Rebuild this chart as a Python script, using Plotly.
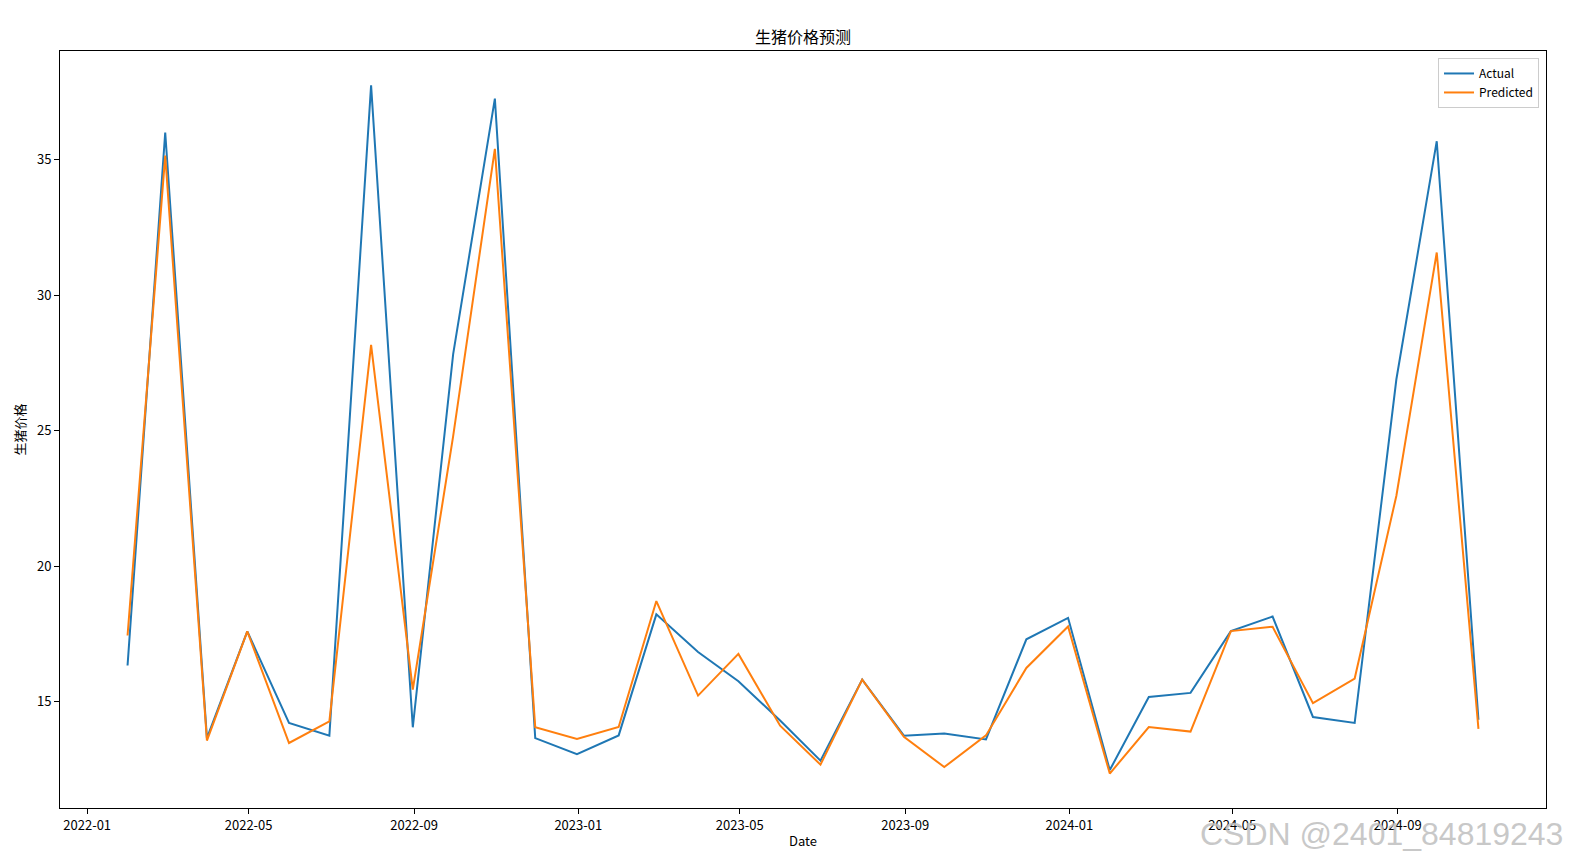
import plotly.graph_objects as go
import pandas as pd

dates = pd.date_range("2022-01-31", periods=34, freq="ME").strftime("%Y-%m-%d").tolist()

actual = [16.33, 36.01, 13.65, 17.59, 14.21, 13.74, 37.75, 14.05, 27.83, 37.26,
          13.65, 13.06, 13.75, 18.22, 16.83, 15.75, 14.30, 12.82, 15.81, 13.74,
          13.82, 13.60, 17.30, 18.09, 12.47, 15.17, 15.32, 17.60, 18.14, 14.43,
          14.21, 26.90, 35.69, 14.33]

predicted = [17.44, 35.16, 13.56, 17.59, 13.47, 14.27, 28.17, 15.44, 24.80, 35.41,
             14.05, 13.62, 14.06, 18.71, 15.22, 16.76, 14.11, 12.67, 15.81, 13.70,
             12.58, 13.75, 16.24, 17.77, 12.34, 14.06, 13.89, 17.60, 17.76, 14.94,
             15.85, 22.60, 31.58, 13.99]

x_tick_vals = ["2022-01-01", "2022-05-01", "2022-09-01", "2023-01-01", "2023-05-01",
               "2023-09-01", "2024-01-01", "2024-05-01", "2024-09-01"]
x_tick_text = ["2022-01", "2022-05", "2022-09", "2023-01", "2023-05",
               "2023-09", "2024-01", "2024-05", "2024-09"]
y_tick_vals = [15, 20, 25, 30, 35]

title_text = "生猪价格预测"
x_title = "Date"
y_title = "生猪价格"
watermark = "CSDN @2401_84819243"

FONT = "Noto Sans CJK SC"

# matplotlib-like 5% margins
allv = actual + predicted
lo, hi = min(allv), max(allv)
pad = (hi - lo) * 0.05
t0 = pd.Timestamp(dates[0])
t1 = pd.Timestamp(dates[-1])
tpad = (t1 - t0) * 0.05

fig = go.Figure()
fig.add_trace(go.Scatter(x=dates, y=actual, mode="lines", name="Actual",
                         line=dict(color="#1f77b4", width=2)))
fig.add_trace(go.Scatter(x=dates, y=predicted, mode="lines", name="Predicted",
                         line=dict(color="#ff7f0e", width=2)))

fig.update_layout(
    width=1571, height=864,
    margin=dict(l=50, r=33, t=43, b=64),
    paper_bgcolor="white", plot_bgcolor="white",
    font=dict(family=FONT, size=13, color="black"),
    title=dict(text=title_text, x=0.5, xref="paper", xanchor="center",
               y=1 - 29/864, yanchor="middle", font=dict(size=16, color="black")),
    showlegend=True,
    legend=dict(x=0.9953, xanchor="right", y=0.9908, yanchor="top",
                bgcolor="white", bordercolor="#cccccc", borderwidth=1,
                font=dict(size=12, color="black"), tracegroupgap=0),
)

fig.update_xaxes(
    type="date",
    range=[t0 - tpad, t1 + tpad],
    tickvals=x_tick_vals, ticktext=x_tick_text,
    ticks="outside", ticklen=5, tickwidth=1, tickcolor="black",
    showline=True, linecolor="black", linewidth=1, mirror=True,
    showgrid=False, zeroline=False,
    tickfont=dict(size=13, color="black"),
    title=dict(text=x_title, font=dict(size=13, color="black"), standoff=4),
)
fig.update_yaxes(
    range=[lo - pad, hi + pad],
    tickvals=y_tick_vals,
    ticks="outside", ticklen=5, tickwidth=1, tickcolor="black",
    showline=True, linecolor="black", linewidth=1, mirror=True,
    showgrid=False, zeroline=False,
    tickfont=dict(size=13, color="black"),
    title=dict(text=y_title, font=dict(size=13, color="black"), standoff=8),
)

fig.add_annotation(text=watermark, xref="paper", yref="paper",
                   x=1.0125, y=-0.008, xanchor="right", yanchor="top",
                   showarrow=False,
                   font=dict(family="Liberation Sans", size=32, color="rgba(190,190,190,0.85)"))

fig.write_html("out.html")
